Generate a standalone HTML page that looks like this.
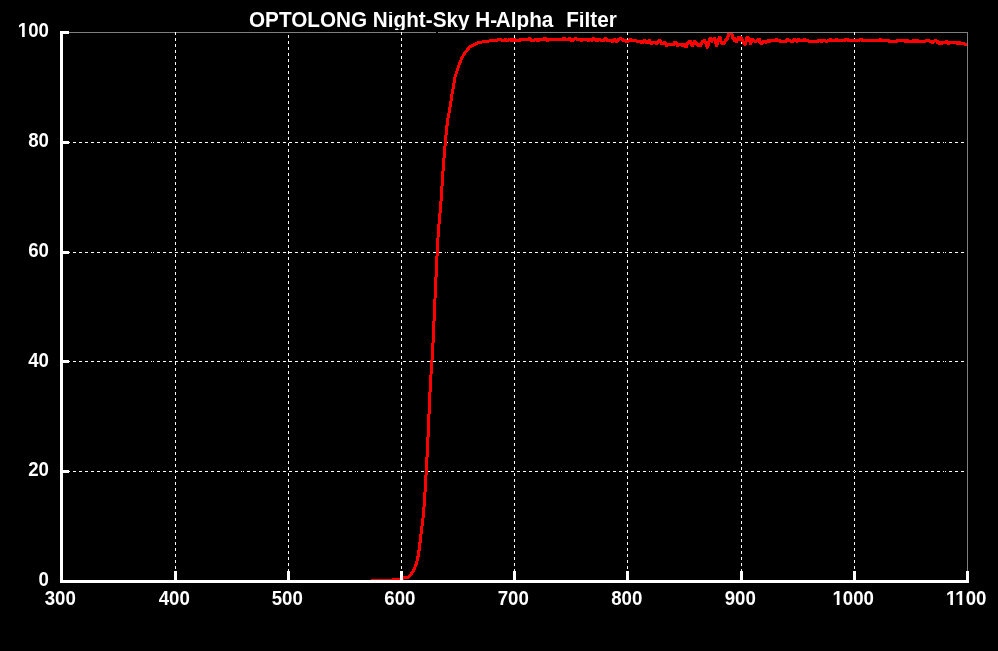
<!DOCTYPE html>
<html lang="en">
<head>
<meta charset="utf-8">
<title>OPTOLONG Night-Sky H-Alpha Filter</title>
<style>
html,body{margin:0;padding:0;background:#000;}
body{width:998px;height:651px;overflow:hidden;}
svg{display:block;}
text{white-space:pre;font-family:"Liberation Sans",Arial,Helvetica,sans-serif;font-weight:bold;fill:#fff;}
.t{font-size:20.72px;}
.l{font-size:18.67px;}
</style>
</head>
<body>
<svg width="998" height="651" viewBox="0 0 998 651">
<rect x="0" y="0" width="998" height="651" fill="#000"/>
<g shape-rendering="crispEdges">
<!-- frame -->
<rect x="61" y="32" width="907" height="1" fill="#808080"/>
<rect x="967" y="32" width="1" height="549" fill="#808080"/>
<rect x="436" y="32" width="2" height="1" fill="#000"/>
<!-- grid -->
<g stroke="#fff" stroke-width="1" stroke-dasharray="3 3" fill="none">
<line x1="175.5" y1="32" x2="175.5" y2="580" stroke-dashoffset="0"/>
<line x1="288.5" y1="32" x2="288.5" y2="580" stroke-dashoffset="3"/>
<line x1="401.5" y1="32" x2="401.5" y2="580" stroke-dashoffset="0"/>
<line x1="514.5" y1="32" x2="514.5" y2="580" stroke-dashoffset="3"/>
<line x1="627.5" y1="32" x2="627.5" y2="580" stroke-dashoffset="0"/>
<line x1="741.5" y1="32" x2="741.5" y2="580" stroke-dashoffset="3"/>
<line x1="854.5" y1="32" x2="854.5" y2="580" stroke-dashoffset="0"/>
<line x1="61" y1="142.5" x2="967" y2="142.5"/>
<line x1="61" y1="252.5" x2="967" y2="252.5"/>
<line x1="61" y1="361.5" x2="967" y2="361.5"/>
<line x1="61" y1="471.5" x2="967" y2="471.5"/>
</g>
<g fill="#000">
<rect x="152" y="142" width="1" height="1"/>
<rect x="242" y="142" width="1" height="1"/>
<rect x="356" y="142" width="1" height="1"/>
<rect x="446" y="142" width="1" height="1"/>
<rect x="560" y="142" width="1" height="1"/>
<rect x="650" y="142" width="1" height="1"/>
<rect x="741" y="142" width="1" height="1"/>
<rect x="854" y="142" width="1" height="1"/>
<rect x="944" y="142" width="1" height="1"/>
<rect x="152" y="252" width="1" height="1"/>
<rect x="242" y="252" width="1" height="1"/>
<rect x="356" y="252" width="1" height="1"/>
<rect x="446" y="252" width="1" height="1"/>
<rect x="560" y="252" width="1" height="1"/>
<rect x="650" y="252" width="1" height="1"/>
<rect x="741" y="252" width="1" height="1"/>
<rect x="854" y="252" width="1" height="1"/>
<rect x="944" y="252" width="1" height="1"/>
<rect x="152" y="361" width="1" height="1"/>
<rect x="242" y="361" width="1" height="1"/>
<rect x="356" y="361" width="1" height="1"/>
<rect x="446" y="361" width="1" height="1"/>
<rect x="560" y="361" width="1" height="1"/>
<rect x="650" y="361" width="1" height="1"/>
<rect x="741" y="361" width="1" height="1"/>
<rect x="854" y="361" width="1" height="1"/>
<rect x="944" y="361" width="1" height="1"/>
<rect x="152" y="471" width="1" height="1"/>
<rect x="242" y="471" width="1" height="1"/>
<rect x="356" y="471" width="1" height="1"/>
<rect x="446" y="471" width="1" height="1"/>
<rect x="560" y="471" width="1" height="1"/>
<rect x="650" y="471" width="1" height="1"/>
<rect x="741" y="471" width="1" height="1"/>
<rect x="854" y="471" width="1" height="1"/>
<rect x="944" y="471" width="1" height="1"/>
</g>
<!-- transmission curve -->
<polyline points="371,580.5 391,580.5 393,579.5 401,579.3 404,577.5 408,577.2 411,574.3 413.5,570.3 415.5,566 416.5,563 417.5,559.2 418.5,554.3 419.5,547 420.5,538.1 421.5,529.5 422.5,522.5 423.5,514.2 424.5,501 425.5,484.5 426.5,467 427.5,447.8 428.5,426.2 429.5,403 430.5,382 431.5,367.5 432.5,353.5 433.5,333.2 434.5,310 435.5,288 436.5,266.5 437.5,246 438.5,229.5 439.5,218.6 440.5,208 441.5,193.7 442.5,178.5 443.5,164 444.5,152 445.5,140.5 446.5,130 447.5,121.3 448.5,115.5 449.5,110.4 450.5,104.2 451.5,97.4 452.5,91.5 453.5,86.5 454.8,77.5 457,71 459.1,64.6 461.8,58.1 465,52.7 469.3,47.4 473.6,44.7 479,42.5 485.5,41.4 492,40.6 496,40.5" fill="none" stroke="#f00" stroke-width="3" stroke-linejoin="round" stroke-linecap="butt"/>
<path d="M495,39h2v3h-2zM497,38h1v4h-1zM498,38h3v3h-3zM501,38h1v4h-1zM502,39h2v3h-2zM504,38h3v4h-3zM507,39h1v3h-1zM508,38h1v4h-1zM509,38h1v3h-1zM510,38h6v4h-6zM516,39h3v3h-3zM519,38h2v4h-2zM521,38h7v3h-7zM528,37h2v4h-2zM530,37h1v5h-1zM531,38h1v4h-1zM532,39h2v3h-2zM534,38h1v4h-1zM535,38h1v3h-1zM536,38h4v4h-4zM540,38h3v3h-3zM543,37h3v4h-3zM546,37h1v5h-1zM547,38h2v4h-2zM549,38h13v3h-13zM562,37h4v4h-4zM566,38h2v3h-2zM568,37h2v4h-2zM570,37h1v5h-1zM571,38h3v4h-3zM574,37h1v4h-1zM575,37h1v3h-1zM576,37h1v4h-1zM577,38h3v3h-3zM580,38h3v4h-3zM583,38h4v3h-4zM587,38h3v4h-3zM590,38h1v3h-1zM591,38h1v4h-1zM592,37h1v5h-1zM593,37h2v4h-2zM595,38h4v4h-4zM599,38h1v3h-1zM600,38h1v4h-1zM601,39h2v3h-2zM603,38h1v4h-1zM604,37h1v5h-1zM605,37h1v4h-1zM606,37h1v5h-1zM607,38h1v4h-1zM608,39h3v3h-3zM611,39h2v4h-2zM613,38h1v5h-1zM614,38h1v4h-1zM615,38h1v5h-1zM616,39h1v4h-1zM617,38h1v5h-1zM618,38h1v4h-1zM619,37h1v4h-1zM620,37h1v3h-1zM621,37h1v4h-1zM622,38h2v4h-2zM624,39h1v3h-1zM625,39h2v4h-2zM627,40h1v3h-1zM628,39h1v4h-1zM629,38h3v4h-3zM632,39h4v3h-4zM636,39h1v4h-1zM637,40h3v3h-3zM640,40h3v4h-3zM643,39h1v5h-1zM644,39h1v4h-1zM645,39h1v5h-1zM646,40h2v4h-2zM648,39h2v5h-2zM650,39h1v6h-1zM651,41h2v4h-2zM653,41h2v3h-2zM655,41h2v4h-2zM657,40h1v5h-1zM658,39h1v5h-1zM659,39h1v4h-1zM660,39h1v6h-1zM661,40h1v5h-1zM662,42h1v3h-1zM663,41h2v4h-2zM665,41h1v6h-1zM666,42h1v5h-1zM667,43h1v4h-1zM668,43h5v3h-5zM673,41h2v5h-2zM675,41h1v4h-1zM676,41h1v6h-1zM677,42h1v5h-1zM678,43h1v4h-1zM679,43h2v3h-2zM681,43h3v4h-3zM684,43h2v5h-2zM686,42h1v6h-1zM687,41h1v7h-1zM688,40h1v5h-1zM689,40h1v4h-1zM690,40h1v6h-1zM691,40h1v7h-1zM692,42h1v5h-1zM693,40h1v7h-1zM694,40h2v5h-2zM696,41h1v5h-1zM697,42h1v5h-1zM698,43h2v4h-2zM700,42h1v5h-1zM701,40h1v7h-1zM702,40h1v5h-1zM703,39h1v4h-1zM704,39h1v5h-1zM705,39h1v8h-1zM706,41h2v8h-2zM708,38h1v10h-1zM709,37h1v9h-1zM710,37h1v5h-1zM711,37h1v6h-1zM712,38h1v5h-1zM713,37h1v4h-1zM714,37h1v7h-1zM715,37h1v10h-1zM716,39h1v8h-1zM717,38h1v9h-1zM718,36h1v9h-1zM719,36h1v6h-1zM720,36h1v8h-1zM721,37h1v8h-1zM722,41h2v4h-2zM724,39h1v6h-1zM725,38h1v6h-1zM726,36h1v6h-1zM727,33h1v8h-1zM728,33h1v7h-1zM729,33h1v4h-1zM730,33h1v2h-1zM731,33h1v6h-1zM732,33h1v7h-1zM733,34h1v8h-1zM734,37h1v5h-1zM735,37h1v6h-1zM736,38h1v5h-1zM737,36h1v7h-1zM738,36h3v5h-3zM741,36h1v6h-1zM742,37h1v7h-1zM743,39h1v6h-1zM744,41h1v5h-1zM745,37h1v9h-1zM746,36h1v9h-1zM747,36h2v6h-2zM749,37h1v8h-1zM750,38h2v7h-2zM752,38h1v5h-1zM753,38h1v4h-1zM754,39h1v4h-1zM755,40h1v3h-1zM756,39h1v4h-1zM757,38h1v4h-1zM758,38h1v5h-1zM759,38h1v6h-1zM760,38h1v7h-1zM761,41h1v4h-1zM762,40h1v5h-1zM763,40h1v4h-1zM764,40h1v3h-1zM765,40h2v4h-2zM767,39h4v4h-4zM771,39h4v3h-4zM775,38h3v4h-3zM778,39h1v3h-1zM779,39h2v4h-2zM781,40h4v3h-4zM785,39h1v4h-1zM786,38h1v5h-1zM787,38h2v4h-2zM789,39h1v3h-1zM790,39h1v4h-1zM791,40h1v3h-1zM792,39h1v4h-1zM793,38h1v5h-1zM794,38h2v4h-2zM796,39h1v4h-1zM797,38h1v5h-1zM798,38h2v4h-2zM800,39h3v3h-3zM803,38h3v4h-3zM806,39h2v3h-2zM808,39h1v4h-1zM809,40h8v3h-8zM817,39h2v4h-2zM819,39h1v3h-1zM820,39h3v4h-3zM823,39h2v3h-2zM825,39h1v4h-1zM826,40h1v3h-1zM827,39h1v4h-1zM828,39h1v3h-1zM829,38h3v4h-3zM832,39h3v3h-3zM835,38h3v4h-3zM838,39h6v3h-6zM844,38h2v4h-2zM846,38h1v3h-1zM847,38h2v4h-2zM849,39h10v3h-10zM859,38h1v4h-1zM860,38h1v3h-1zM861,38h2v4h-2zM863,39h16v3h-16zM879,38h3v4h-3zM882,39h6v3h-6zM888,39h2v4h-2zM890,40h6v3h-6zM896,39h2v4h-2zM898,39h6v3h-6zM904,39h5v4h-5zM909,40h3v3h-3zM912,39h7v4h-7zM919,40h6v3h-6zM925,39h1v4h-1zM926,39h3v3h-3zM929,39h1v4h-1zM930,40h1v3h-1zM931,40h3v4h-3zM934,39h1v4h-1zM935,39h1v3h-1zM936,39h1v5h-1zM937,40h1v4h-1zM938,40h1v5h-1zM939,41h4v4h-4zM943,41h2v3h-2zM945,40h2v4h-2zM947,40h1v5h-1zM948,41h2v4h-2zM950,41h6v3h-6zM956,41h5v4h-5zM961,42h3v3h-3zM964,42h1v4h-1zM965,43h2v3h-2z" fill="#f00"/>
<!-- axes -->
<g fill="#fff">
<rect x="60" y="31" width="3" height="552"/>
<rect x="60" y="580" width="909" height="3"/>
<rect x="174" y="571" width="3" height="10"/>
<rect x="287" y="571" width="3" height="10"/>
<rect x="400" y="571" width="3" height="10"/>
<rect x="513" y="571" width="3" height="10"/>
<rect x="626" y="571" width="3" height="10"/>
<rect x="740" y="571" width="3" height="10"/>
<rect x="853" y="571" width="3" height="10"/>
<rect x="966" y="571" width="3" height="10"/>
<rect x="61" y="31" width="8" height="3"/>
<rect x="61" y="141" width="8" height="3"/>
<rect x="61" y="251" width="8" height="3"/>
<rect x="61" y="360" width="8" height="3"/>
<rect x="61" y="470" width="8" height="3"/>
</g>
</g>
<text class="t" transform="translate(249,27) scale(1,1.04)" xml:space="preserve">OPTOLONG Night-Sky H-<tspan dx="-1.3">Alpha</tspan><tspan dx="1.3">  Filter</tspan></text>
<g fill="#000" shape-rendering="crispEdges"><rect x="240" y="9" width="390" height="3"/><rect x="240" y="30" width="390" height="2"/></g>
<g class="l" text-anchor="end">
<text transform="translate(49,37.3) scale(1,1.07)">100</text>
<text transform="translate(49,147.3) scale(1,1.07)">80</text>
<text transform="translate(49,257.3) scale(1,1.07)">60</text>
<text transform="translate(49,367.3) scale(1,1.07)">40</text>
<text transform="translate(49,476.3) scale(1,1.07)">20</text>
<text transform="translate(49,586.3) scale(1,1.07)">0</text>
</g>
<g class="l" text-anchor="middle">
<text transform="translate(60.2,605.2) scale(1,1.07)">300</text>
<text transform="translate(174.2,605.2) scale(1,1.07)">400</text>
<text transform="translate(287.2,605.2) scale(1,1.07)">500</text>
<text transform="translate(399.9,605.2) scale(1,1.07)">600</text>
<text transform="translate(513.2,605.2) scale(1,1.07)">700</text>
<text transform="translate(626.7,605.2) scale(1,1.07)">800</text>
<text transform="translate(740.2,605.2) scale(1,1.07)">900</text>
<text transform="translate(853.2,605.2) scale(1,1.07)">1000</text>
<text transform="translate(966.2,605.2) scale(1,1.07)">1100</text>
</g>
<g fill="#000" shape-rendering="crispEdges">
<rect x="18" y="35" width="4" height="2"/>
<rect x="22" y="35" width="1" height="2" fill-opacity="0.08"/>
<rect x="24" y="35" width="1" height="2" fill-opacity="0.28"/>
<rect x="25" y="35" width="3" height="2"/>
<rect x="833" y="603" width="3" height="2"/>
<rect x="836" y="603" width="1" height="2" fill-opacity="0.80"/>
<rect x="839" y="603" width="1" height="2" fill-opacity="0.51"/>
<rect x="840" y="603" width="3" height="2"/>
<rect x="947" y="603" width="3" height="2"/>
<rect x="950" y="603" width="1" height="2" fill-opacity="0.30"/>
<rect x="952" y="603" width="1" height="2" fill-opacity="0.06"/>
<rect x="953" y="603" width="6" height="2"/>
<rect x="959" y="603" width="1" height="2" fill-opacity="0.54"/>
<rect x="962" y="603" width="1" height="2" fill-opacity="0.77"/>
<rect x="963" y="603" width="3" height="2"/>
</g>
</svg>
</body>
</html>
